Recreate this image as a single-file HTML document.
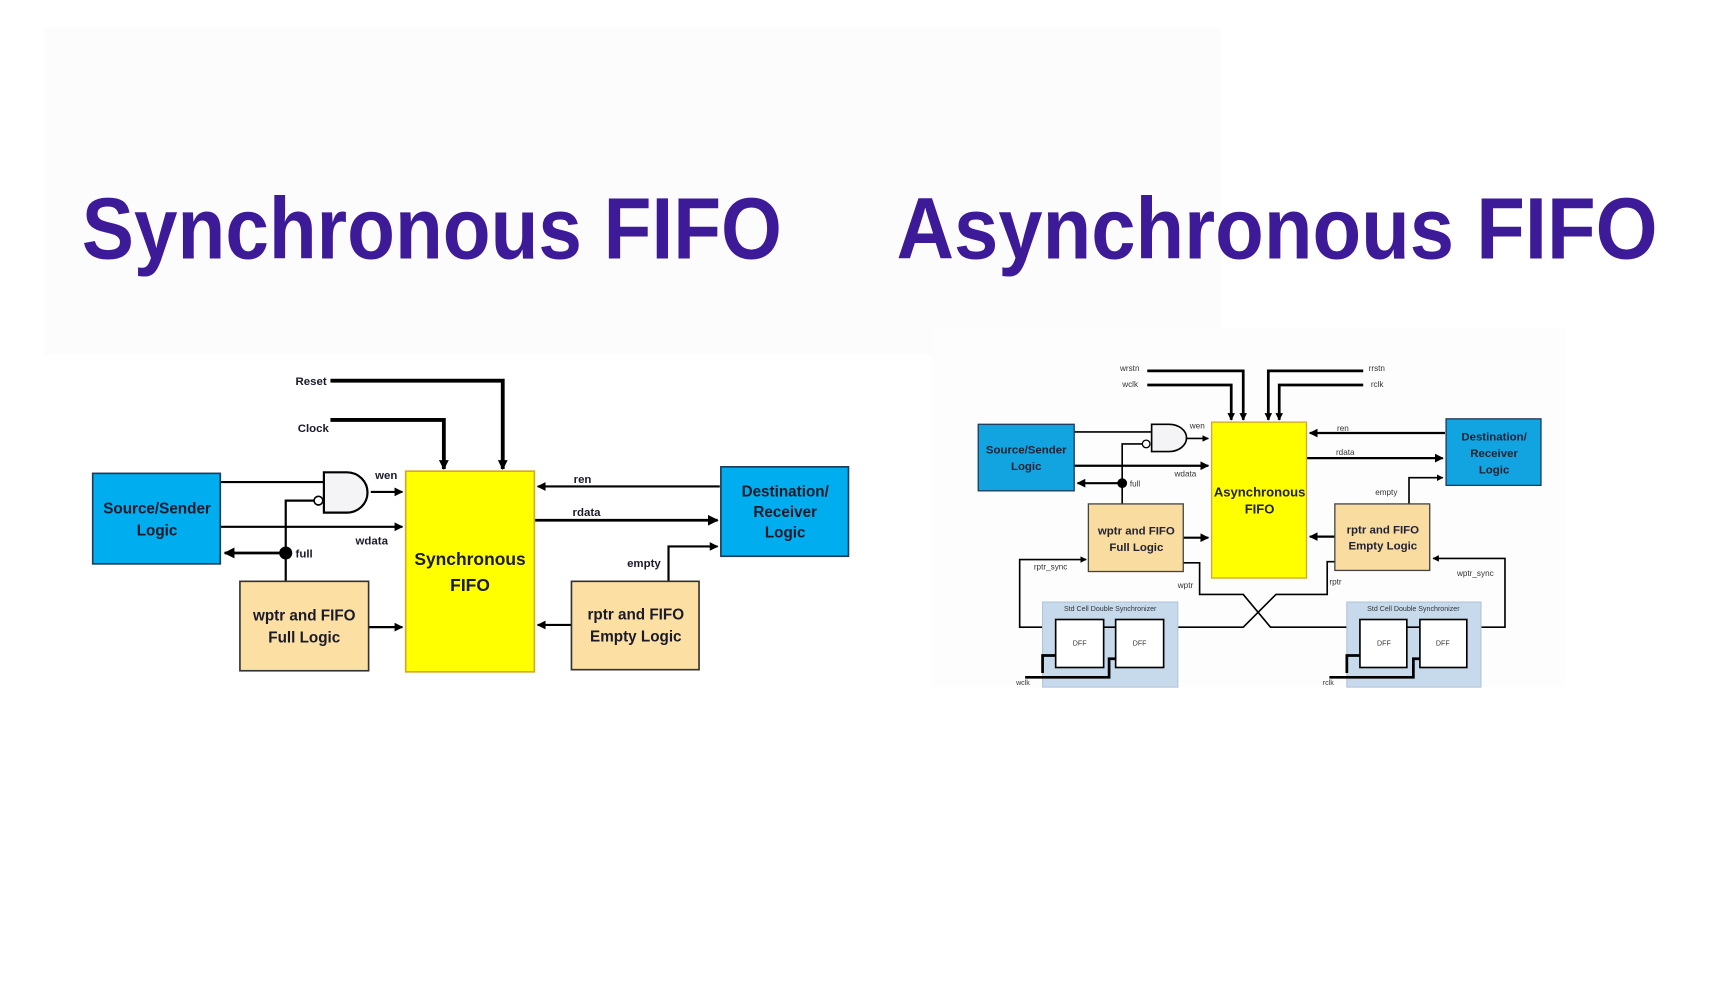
<!DOCTYPE html>
<html><head><meta charset="utf-8"><style>
html,body{margin:0;padding:0;background:#fff;width:1710px;height:998px;overflow:hidden}
svg{display:block}
text{font-family:"Liberation Sans",sans-serif}
.b{font-weight:bold;fill:#1a1a2a}
</style></head><body>
<svg width="1710" height="998" viewBox="0 0 1568 915" xmlns="http://www.w3.org/2000/svg">
<defs>
<marker id="a" viewBox="0 0 10 10" refX="9" refY="5" markerWidth="4" markerHeight="4" orient="auto-start-reverse" markerUnits="strokeWidth"><path d="M0,0L10,5L0,10z" fill="#000"/></marker>
<marker id="s" viewBox="0 0 10 10" refX="9" refY="5" markerWidth="9" markerHeight="10" orient="auto" markerUnits="userSpaceOnUse"><path d="M0,0L10,5L0,10z" fill="#000"/></marker>
<marker id="t" viewBox="0 0 10 10" refX="9" refY="5" markerWidth="7" markerHeight="7" orient="auto" markerUnits="userSpaceOnUse"><path d="M0,0L10,5L0,10z" fill="#000"/></marker>
</defs>
<rect width="1568" height="915" fill="#fff"/>
<rect x="40" y="25" width="1080" height="300" fill="#fdfcfd"/>
<text x="75" y="237" font-size="80" font-weight="bold" fill="#3c1a98" textLength="642" lengthAdjust="spacingAndGlyphs">Synchronous FIFO</text>
<text x="822" y="237" font-size="80" font-weight="bold" fill="#3c1a98" textLength="698" lengthAdjust="spacingAndGlyphs">Asynchronous FIFO</text>

<!-- SYNC -->
<g stroke="#000" fill="none">
<path d="M303,349H461V430" stroke-width="3.5" marker-end="url(#s)"/>
<path d="M303,385H407V430" stroke-width="3.5" marker-end="url(#s)"/>
<path d="M202,442H297" stroke-width="2"/>
<path d="M262,533V459H288" stroke-width="2"/>
<path d="M340,451H369" stroke-width="2" marker-end="url(#a)"/>
<path d="M202,483H369" stroke-width="2" marker-end="url(#a)"/>
<path d="M262,507H206" stroke-width="2.5" marker-end="url(#a)"/>
<path d="M338,575H369" stroke-width="2" marker-end="url(#a)"/>
<path d="M660,446H493" stroke-width="2" marker-end="url(#a)"/>
<path d="M490,477H658" stroke-width="2.5" marker-end="url(#a)"/>
<path d="M613,533V501H658" stroke-width="2" marker-end="url(#a)"/>
<path d="M524,573H493" stroke-width="2" marker-end="url(#a)"/>
</g>
<path d="M297,433H318A19,18.5 0 0 1 318,470H297Z" fill="#f4f4f6" stroke="#000" stroke-width="2"/>
<circle cx="292" cy="459" r="4" fill="#fff" stroke="#000" stroke-width="1.5"/>
<circle cx="262" cy="507" r="6" fill="#000"/>
<rect x="85" y="434" width="117" height="83" fill="#00aeef" stroke="#1f3a5a" stroke-width="1.5"/>
<rect x="661" y="428" width="117" height="82" fill="#00aeef" stroke="#1f3a5a" stroke-width="1.5"/>
<rect x="220" y="533" width="118" height="82" fill="#fbdfa3" stroke="#333" stroke-width="1.5"/>
<rect x="524" y="533" width="117" height="81" fill="#fbdfa3" stroke="#333" stroke-width="1.5"/>
<rect x="372" y="432" width="118" height="184" fill="#ffff00" stroke="#d4a82a" stroke-width="1.5"/>
<g class="b" font-size="14" text-anchor="middle">
<text x="144" y="471">Source/Sender</text><text x="144" y="491">Logic</text>
<text x="720" y="455">Destination/</text><text x="720" y="474">Receiver</text><text x="720" y="493">Logic</text>
<text x="279" y="569">wptr and FIFO</text><text x="279" y="589">Full Logic</text>
<text x="583" y="568">rptr and FIFO</text><text x="583" y="588">Empty Logic</text>
<text x="431" y="518" font-size="16">Synchronous</text><text x="431" y="542" font-size="16">FIFO</text>
</g>
<g class="b" font-size="10.5" font-weight="bold">
<text x="271" y="353">Reset</text><text x="273" y="396">Clock</text>
<text x="344" y="439">wen</text><text x="326" y="499">wdata</text><text x="271" y="511">full</text>
<text x="526" y="443">ren</text><text x="525" y="473">rdata</text><text x="575" y="520">empty</text>
</g>

<!-- ASYNC -->
<rect x="855" y="300" width="580" height="330" fill="#fdfdfd"/>
<g stroke="#000" fill="none" stroke-width="2">
<path d="M1052,340H1140V385" stroke-width="2.5" marker-end="url(#t)"/>
<path d="M1052,353H1129V385" stroke-width="2.5" marker-end="url(#t)"/>
<path d="M1250,340H1163V385" stroke-width="2.5" marker-end="url(#t)"/>
<path d="M1250,353H1173V385" stroke-width="2.5" marker-end="url(#t)"/>
<path d="M985,396H1056" stroke-width="1.5"/>
<path d="M1029,462V407H1048" stroke-width="1.5"/>
<path d="M1088,402H1108" stroke-width="1.5" marker-end="url(#a)"/>
<path d="M985,427H1108" marker-end="url(#a)"/>
<path d="M1029,443H988" marker-end="url(#a)"/>
<path d="M1085,493H1108" marker-end="url(#a)"/>
<path d="M1224,492H1201" marker-end="url(#a)"/>
<path d="M1325,397H1201" marker-end="url(#a)"/>
<path d="M1198,420H1323" marker-end="url(#a)"/>
<path d="M1292,462V438H1323" stroke-width="1.5" marker-end="url(#a)"/>
<path d="M970,575H935V513H996" stroke-width="1.5" marker-end="url(#a)"/>
<path d="M1345,575H1380V512H1314" stroke-width="1.5" marker-end="url(#a)"/>
<path d="M1085,516H1100V545H1140L1165,575H1246" stroke-width="1.5"/>
<path d="M1224,515H1217V545H1170L1140,575H1068" stroke-width="1.5" marker-end="url(#a)"/>
</g>
<path d="M1056,389H1072A16,12.5 0 0 1 1072,414H1056Z" fill="#f4f4f6" stroke="#000" stroke-width="1.5"/>
<circle cx="1051" cy="407" r="3.5" fill="#fff" stroke="#000" stroke-width="1.2"/>
<circle cx="1029" cy="443" r="4.5" fill="#000"/>
<rect x="897" y="389" width="88" height="61" fill="#12a4e0" stroke="#1f3a5a" stroke-width="1.2"/>
<rect x="1326" y="384" width="87" height="61" fill="#12a4e0" stroke="#1f3a5a" stroke-width="1.2"/>
<rect x="998" y="462" width="87" height="62" fill="#f8dca0" stroke="#444" stroke-width="1.2"/>
<rect x="1224" y="462" width="87" height="61" fill="#f8dca0" stroke="#444" stroke-width="1.2"/>
<rect x="1111" y="387" width="87" height="143" fill="#ffff00" stroke="#d4a82a" stroke-width="1.2"/>
<g class="b" font-size="10.5" text-anchor="middle" style="fill:#223">
<text x="941" y="416">Source/Sender</text><text x="941" y="431">Logic</text>
<text x="1370" y="404">Destination/</text><text x="1370" y="419">Receiver</text><text x="1370" y="434">Logic</text>
<text x="1042" y="490">wptr and FIFO</text><text x="1042" y="505">Full Logic</text>
<text x="1268" y="489">rptr and FIFO</text><text x="1268" y="504">Empty Logic</text>
<text x="1155" y="455" font-size="12">Asynchronous</text><text x="1155" y="471" font-size="12">FIFO</text>
</g>
<g font-size="7.5" fill="#333">
<text x="1027" y="340">wrstn</text><text x="1029" y="355">wclk</text>
<text x="1255" y="340">rrstn</text><text x="1257" y="355">rclk</text>
<text x="1091" y="393">wen</text><text x="1077" y="437">wdata</text><text x="1036" y="446">full</text>
<text x="1226" y="395">ren</text><text x="1225" y="417">rdata</text><text x="1261" y="454">empty</text>
<text x="948" y="522">rptr_sync</text><text x="1336" y="528">wptr_sync</text>
<text x="1080" y="539">wptr</text><text x="1219" y="536">rptr</text>
</g>
<!-- synchronizers -->
<g>
<rect x="956" y="552" width="124" height="78" fill="#c7daec" stroke="#b0c4d8"/>
<rect x="1235" y="552" width="123" height="78" fill="#c7daec" stroke="#b0c4d8"/>
<g fill="#fff" stroke="#000" stroke-width="1.5">
<rect x="968" y="568" width="44" height="44"/><rect x="1023" y="568" width="44" height="44"/>
<rect x="1247" y="568" width="43" height="44"/><rect x="1302" y="568" width="43" height="44"/>
</g>
<g stroke="#000" fill="none" stroke-width="2.5">
<path d="M940,621H1017V604H1023"/><path d="M956,617V601H968"/>
<path d="M1219,621H1296V604H1302"/><path d="M1235,617V601H1247"/>
</g>
<g stroke="#000" stroke-width="1.5"><path d="M1012,575H1023M1290,575H1302"/></g>
<g font-size="6.5" fill="#333" text-anchor="middle">
<text x="1018" y="560">Std Cell Double Synchronizer</text><text x="1296" y="560">Std Cell Double Synchronizer</text>
<text x="990" y="592">DFF</text><text x="1045" y="592">DFF</text><text x="1269" y="592">DFF</text><text x="1323" y="592">DFF</text>
<text x="938" y="628">wclk</text><text x="1218" y="628">rclk</text>
</g>
</g>
</svg>
</body></html>
